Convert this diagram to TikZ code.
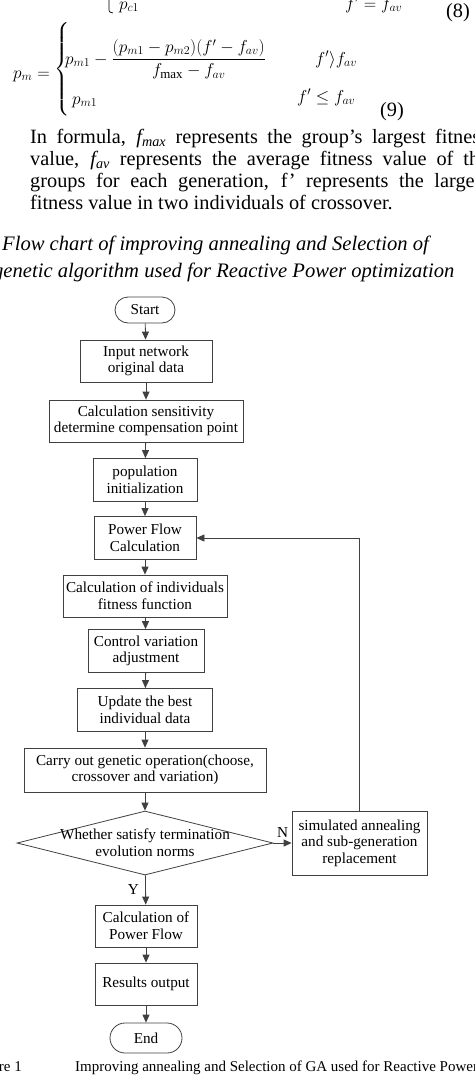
\documentclass[tikz,border=0pt]{standalone}
\usepackage{amsmath}
\usepackage{fontspec}
\setmainfont{Liberation Serif}
\usetikzlibrary{shapes.geometric,arrows.meta,positioning}

\newcommand{\chartfont}{\fontsize{15.2}{16.6}\selectfont}
\newcommand{\bodyfont}{\fontsize{20.3}{22}\selectfont}
\newcommand{\formfont}{\fontsize{18.5}{22}\selectfont}
\newcommand{\capfont}{\fontsize{20.6}{26}\selectfont\itshape}
\newcommand{\figfont}{\fontsize{15}{18}\selectfont}

\tikzset{
  box/.style={draw=black!75, line width=0.8pt, minimum height=42pt, inner sep=0pt, align=center, font=\chartfont},
  term/.style={box, rounded corners=13pt, minimum height=26pt},
  decision/.style={diamond, draw=black!75, line width=0.8pt, minimum width=256pt, minimum height=64pt, inner sep=0pt},
  arr/.style={-{Triangle[length=8pt,width=7pt]}, line width=0.8pt, draw=black!75},
  body/.style={anchor=base west, inner sep=0pt, font=\bodyfont},
  form/.style={body, font=\formfont},
}

\begin{document}
\begin{tikzpicture}[x=1pt,y=-1pt]
    \useasboundingbox (0,0) rectangle (474,1079);
    \clip (0,0) rectangle (474,1079);

    % tail of formula (8)
    \draw[line width=0.7pt] (109,-2) -- (109,8) .. controls (109,12) .. (113,13);
    \node[form] (pc) at (119,9) {$p_{c1}$};
    \node[form] (cond8) at (345,9) {$f'=f_{av}$};
    \node[body] (eq8) at (446,17) {(8)};

    % formula (9)
    \node[form] (pm) at (13,78) {$p_m=$};
    \node[inner sep=0pt, font=\formfont] (brace) at (63,69) {$\left\{\vrule height 41pt depth 41pt width 0pt\right.$};
    \node[form] (row1) at (65,64) {$p_{m1}-\dfrac{(p_{m1}-p_{m2})(f'-f_{av})}{f_{\max}-f_{av}}$};
    \node[form] (cond1) at (315,64) {$f'\rangle f_{av}$};
    \node[form] (row2) at (72,104) {$p_{m1}$};
    \node[form] (cond2) at (297,102) {$f'\le f_{av}$};
    \node[body] (eq9) at (380,116) {(9)};

    % text
    \node[body] (l1) at (30,143) {\makebox[458pt][s]{In formula, \textit{f\textsubscript{max}} represents the group's largest fitness}};
    \node[body] (l2) at (30,165) {\makebox[458pt][s]{value, \textit{f\textsubscript{av}} represents the average fitness value of the}};
    \node[body] (l3) at (30,187) {\makebox[458pt][s]{groups for each generation, f' represents the largest}};
    \node[body] (l4) at (30,209) {fitness value in two individuals of crossover.};

    \node[body, font=\capfont] (t1) at (2,250) {Flow chart of improving annealing and Selection of};
    \node[body, font=\capfont] (t2) at (-7,277) {genetic algorithm used for Reactive Power optimization};

    % flow chart
    \node[term, minimum width=60pt] (start) at (145,310) {Start};
    \node[box, minimum width=132pt] (input) at (146,361) {Input network\\original data};
    \node[box, minimum width=194pt] (sens) at (146,421) {Calculation sensitivity\\determine compensation point};
    \node[box, minimum width=104pt, minimum height=43pt] (pop) at (145,480) {population\\initialization};
    \node[box, minimum width=102pt, minimum height=43pt] (flow) at (145,538) {Power Flow\\Calculation};
    \node[box, minimum width=164pt] (fit) at (145,596) {Calculation of individuals\\fitness function};
    \node[box, minimum width=116pt, minimum height=43pt] (ctrl) at (146,651) {Control variation\\adjustment};
    \node[box, minimum width=135pt, minimum height=43pt] (best) at (145,710) {Update the best\\individual data};
    \node[box, minimum width=242pt, minimum height=44pt] (gen) at (145,770) {Carry out genetic operation(choose,\\crossover and variation)};
    \node[decision, label={[font=\chartfont, align=center]center:Whether satisfy termination\\evolution norms}] (judge) at (145,843) {};
    \node[box, minimum width=135pt, minimum height=64pt] (anneal) at (359.5,843) {simulated annealing\\and sub-generation\\replacement};
    \node[box, minimum width=102pt] (calc) at (146,926) {Calculation of\\Power Flow};
    \node[box, minimum width=102pt] (out) at (146,984) {Results output};
    \node[term, minimum width=72pt, minimum height=30pt, rounded corners=15pt] (end) at (146,1038) {End};

    \foreach \a/\b in {start/input, input/sens, sens/pop, pop/flow, flow/fit, fit/ctrl, ctrl/best, best/gen, gen/judge, calc/out, out/end}
        \draw[arr] (\a) -- (\b);
    \draw[arr] (judge) -- node[left=3pt, font=\chartfont] {Y} (calc);
    \draw[arr] (judge.east) -- node[above=2pt, font=\chartfont] {N} (anneal.west);
    \draw[arr] (anneal.north) |- (flow.east);

    % figure caption
    \node[anchor=base east, inner sep=0pt, font=\figfont] (figno) at (22,1071) {Figure 1};
    \node[anchor=base west, inner sep=0pt, font=\figfont] (figcap) at (75,1071) {Improving annealing and Selection of GA used for Reactive Power optimization};
\end{tikzpicture}
\end{document}
